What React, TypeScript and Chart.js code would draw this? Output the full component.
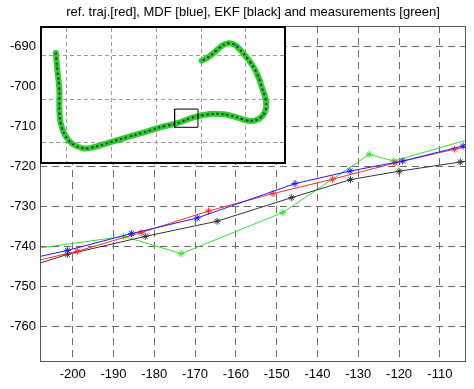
import React, { useEffect, useRef } from "react";
import { Chart, registerables } from "chart.js";
Chart.register(...registerables);

const titleText = "ref. traj.[red], MDF [blue], EKF [black] and measurements [green]";

const xTicks = [-200, -190, -180, -170, -160, -150, -140, -130, -120, -110];
const yTicks = [-760, -750, -740, -730, -720, -710, -700, -690];
const xRange = [-208, -103.6];
const yRange = [-769, -685];

// reference trajectory (red)
const refX = [-215.2, -198.85, -183.2, -166.7, -150.9, -136.3, -121.0, -106.4, -100.2];
const refY = [-745.2, -741.3, -736.65, -731.25, -726.9, -723.3, -719.25, -715.8, -714.4];
// MDF (blue)
const mdfX = [-216.4, -201.3, -185.6, -169.5, -145.5, -132.0, -119.1, -104.3];
const mdfY = [-744.5, -741.1, -736.9, -733.0, -724.4, -721.25, -718.75, -715.0];
// EKF (black)
const ekfX = [-216.4, -201.3, -182.2, -164.6, -146.3, -131.9, -120.0, -105.0, -100.2];
const ekfY = [-747.0, -742.1, -737.6, -733.8, -727.9, -723.4, -721.3, -719.0, -718.3];
// measurements (green)
const measX = [-216.4, -187.5, -173.4, -148.5, -127.3, -121.3, -102.7];
const measY = [-741.65, -737.6, -741.9, -731.65, -717.1, -718.75, -713.3];

// inset: whole trajectory
const insetX = [-739, -732, -723, -723, -717, -698, -668, -616, -571, -511, -422, -333, -273, -199, -124, -50, 10, 70, 121, 166, 196, 201, 181, 166, 144, 99, 62, 32, 2.5, -35, -64.5, -87];
const insetY = [-425, -505, -597, -689, -751, -804.5, -843, -866, -861, -843, -815, -789, -769, -751, -723, -708, -709, -723, -739, -732, -697, -651, -582, -536, -490, -428, -390, -382, -394, -428, -451, -462];
const insetXTicks = [-690, -490, -290, -90, 110];
const insetYTicks = [-840, -640, -440];
const insetXRange = [-800.6, 280.9];
const insetYRange = [-928.9, -311.4];

const pts = (xs: number[], ys: number[]) => xs.map((x, i) => ({ x, y: ys[i] }));

const framePlugin = {
  id: "frame",
  afterDraw(chart: any, _args: any, opts: any) {
    const { ctx, chartArea } = chart;
    ctx.save();
    ctx.strokeStyle = opts.color || "#555";
    ctx.lineWidth = opts.width || 1;
    ctx.strokeRect(chartArea.left + 0.5, chartArea.top + 0.5, chartArea.right - chartArea.left - 1, chartArea.bottom - chartArea.top - 1);
    ctx.restore();
  },
};

export default function App() {
  const mainRef = useRef<HTMLCanvasElement>(null);
  const insetRef = useRef<HTMLCanvasElement>(null);

  useEffect(() => {
    const font = { family: "'Liberation Sans', Arial, sans-serif", size: 13, weight: "normal" as const };
    const series = (label: string, xs: number[], ys: number[], color: string, order: number) => ({
      label,
      data: pts(xs, ys),
      borderColor: color,
      backgroundColor: color,
      borderWidth: 1,
      pointStyle: "star" as const,
      pointRadius: 3.5,
      pointBorderColor: color,
      pointBorderWidth: 1,
      tension: 0,
      clip: 0,
      order,
    });

    const main = new Chart(mainRef.current!, {
      type: "line",
      data: {
        datasets: [
          series("MDF", mdfX, mdfY, "#1a1aff", 0),
          series("ref", refX, refY, "#ff2a2a", 1),
          series("EKF", ekfX, ekfY, "#333333", 2),
          series("meas", measX, measY, "#33e033", 3),
        ],
      },
      options: {
        responsive: false,
        animation: false,
        layout: { padding: { left: 0, right: 8, top: 0, bottom: 0 } },
        plugins: {
          legend: { display: false },
          tooltip: { enabled: false },
          title: {
            display: true,
            text: titleText,
            fullSize: false,
            color: "#000",
            font,
            padding: { top: 5, bottom: 5.4 },
          },
          frame: { color: "#555", width: 1 },
        } as any,
        scales: {
          x: {
            type: "linear",
            min: xRange[0],
            max: xRange[1],
            afterBuildTicks: (s: any) => {
              s.ticks = xTicks.map((v) => ({ value: v }));
            },
            afterFit: (s: any) => {
              s.height = 27;
            },
            ticks: { color: "#000", font, padding: 5, autoSkip: false, maxRotation: 0 },
            grid: { color: "#6a6a6a", lineWidth: 1, drawTicks: false },
            border: { display: false, dash: [7, 5] },
          },
          y: {
            type: "linear",
            min: yRange[0],
            max: yRange[1],
            afterBuildTicks: (s: any) => {
              s.ticks = yTicks.map((v) => ({ value: v }));
            },
            afterFit: (s: any) => {
              s.width = 40;
            },
            ticks: { color: "#000", font, padding: 4, autoSkip: false },
            grid: { color: "#6a6a6a", lineWidth: 1, drawTicks: false },
            border: { display: false, dash: [7, 5] },
          },
        },
      },
      plugins: [framePlugin],
    });

    const boxX = [xRange[0], xRange[1], xRange[1], xRange[0], xRange[0]];
    const boxY = [yRange[0], yRange[0], yRange[1], yRange[1], yRange[0]];

    const inset = new Chart(insetRef.current!, {
      type: "line",
      data: {
        datasets: [
          { label: "box", data: pts(boxX, boxY), borderColor: "#000", borderWidth: 1, pointRadius: 0, tension: 0 },
          { label: "ekf", data: pts(insetX, insetY), borderColor: "rgba(10,40,10,0.85)", borderWidth: 2, borderDash: [2, 3], pointRadius: 0, tension: 0.35 },
          { label: "mdf", data: pts(insetX, insetY), borderColor: "#2244aa", borderWidth: 1.5, borderDash: [1, 7], borderDashOffset: 3, pointRadius: 0, tension: 0.35 },
          { label: "meas", data: pts(insetX, insetY), borderColor: "#33cc33", borderWidth: 6, pointRadius: 0, tension: 0.35, borderCapStyle: "round", borderJoinStyle: "round" },
        ],
      },
      options: {
        responsive: false,
        animation: false,
        layout: { padding: 0 },
        plugins: { legend: { display: false }, tooltip: { enabled: false }, title: { display: false } },
        scales: {
          x: {
            type: "linear",
            min: insetXRange[0],
            max: insetXRange[1],
            afterBuildTicks: (s: any) => {
              s.ticks = insetXTicks.map((v) => ({ value: v }));
            },
            afterFit: (s: any) => {
              s.height = 0;
            },
            ticks: { display: false },
            grid: { color: "#9a9a9a", drawTicks: false },
            border: { display: false, dash: [4, 3] },
          },
          y: {
            type: "linear",
            min: insetYRange[0],
            max: insetYRange[1],
            afterBuildTicks: (s: any) => {
              s.ticks = insetYTicks.map((v) => ({ value: v }));
            },
            afterFit: (s: any) => {
              s.width = 0;
            },
            ticks: { display: false },
            grid: { color: "#9a9a9a", drawTicks: false },
            border: { display: false, dash: [4, 3] },
          },
        },
      },
    });

    return () => {
      main.destroy();
      inset.destroy();
    };
  }, []);

  return (
    <div style={{ position: "absolute", left: 0, top: 0, width: 474, height: 389, background: "#fff" }}>
      <canvas ref={mainRef} width={474} height={389} style={{ position: "absolute", left: 0, top: 0 }} />
      <div
        style={{
          position: "absolute",
          left: 40,
          top: 26,
          width: 246,
          height: 138,
          boxSizing: "border-box",
          border: "2px solid #000",
          background: "#fff",
        }}
      >
        <canvas ref={insetRef} width={242} height={134} style={{ display: "block" }} />
      </div>
    </div>
  );
}
